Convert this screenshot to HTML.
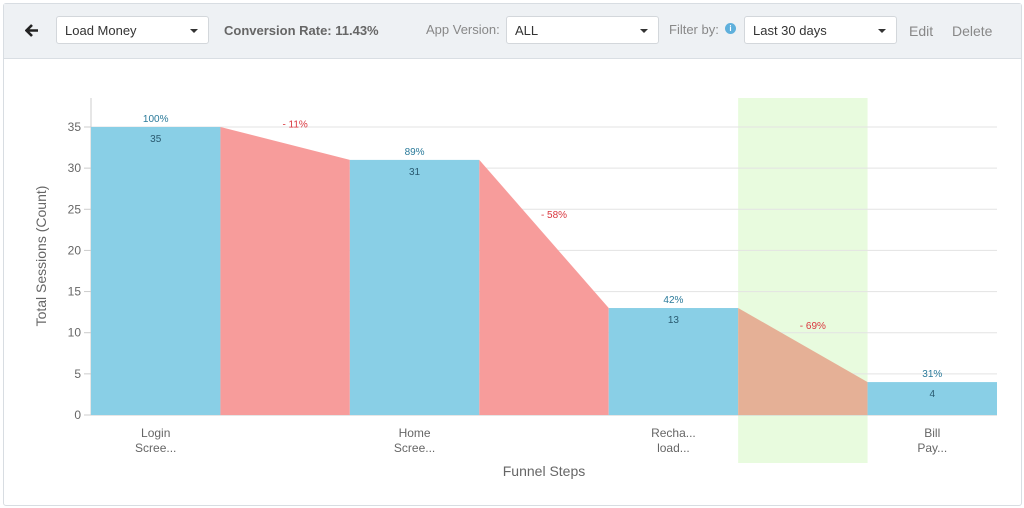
<!DOCTYPE html>
<html><head><meta charset="utf-8"><style>
body{margin:0;width:1024px;height:508px;background:#fff;font-family:"Liberation Sans",sans-serif;overflow:hidden;position:relative}
.card{position:absolute;left:3px;top:3px;width:1017px;height:501px;border:1px solid #d8dde2;border-radius:3px;background:#fff}
.hdr{position:absolute;left:0;top:0;width:1017px;height:54px;background:#eef1f4;border-bottom:1px solid #d9dee3}
.sel{position:absolute;top:12px;height:28px;background:#fff;border:1px solid #d3d7db;border-radius:3px;font-size:13px;color:#333;line-height:28px;box-sizing:border-box;padding-left:8px}
.sel:after{content:"";position:absolute;right:10px;top:12px;border-left:4px solid transparent;border-right:4px solid transparent;border-top:4px solid #333}
.t{position:absolute;font-size:13px;color:#777}
</style></head><body>
<div class="card">
<div class="hdr">
<svg style="position:absolute;left:21px;top:20px" width="14" height="13"><path d="M7 1 L1.5 6.5 L7 12 M2 6.5 H13" stroke="#222" stroke-width="2.6" fill="none"/></svg>
<div class="sel" style="left:52px;width:153px">Load Money</div>
<div class="t" style="left:220px;top:19px;font-weight:bold;color:#666">Conversion Rate: 11.43%</div>
<div class="t" style="left:422px;top:18px;color:#888">App Version:</div>
<div class="sel" style="left:502px;width:153px">ALL</div>
<div class="t" style="left:665px;top:18px;color:#888">Filter by:</div>
<div style="position:absolute;left:721px;top:19px;width:11px;height:11px;border-radius:50%;background:#5fb0dc;color:#fff;font-size:8px;text-align:center;line-height:11px;font-weight:bold">i</div>
<div class="sel" style="left:740px;width:153px">Last 30 days</div>
<div class="t" style="left:905px;top:19px;font-size:14px;color:#888">Edit</div>
<div class="t" style="left:948px;top:19px;font-size:14px;color:#888">Delete</div>
</div></div>
<svg id="ch" width="1024" height="508" style="position:absolute;left:0;top:0"></svg>
<script>
const steps=["Login|Scree...","Home|Scree...","Recha...|load...","Bill|Pay..."];
const values=[35,31,13,4];
const pcts=["100%","89%","42%","31%"];
const drops=["- 11%","- 58%","- 69%"];
const ticks=[0,5,10,15,20,25,30,35];
const highlight=2;
const svg=document.getElementById('ch');const NS="http://www.w3.org/2000/svg";
const X0=91,X1=997,Y0=415,PX=8.229,TOP=98;
const slot=(X1-X0)/(steps.length*2-1);
const y=v=>Y0-v*PX;const xs=i=>X0+i*slot;
function el(t,a,txt){const e=document.createElementNS(NS,t);for(const k in a)e.setAttribute(k,a[k]);if(txt!=null)e.textContent=txt;svg.appendChild(e);return e;}
const hb=el('rect',{x:xs(highlight*2+1),y:TOP,width:slot,height:463-TOP,fill:'#e8fbde'});


ticks.forEach(t=>{
 if(t>0){const g=el('line',{x1:X0,x2:X1,y1:y(t),y2:y(t),stroke:'#e3e3e3'});}
 el('line',{x1:84,x2:X0,y1:y(t),y2:y(t),stroke:'#ccc'});
 const l=el('text',{x:81,y:y(t)+4,'text-anchor':'end','font-size':12,fill:'#666'},t);
 
});
el('line',{x1:X0,x2:X0,y1:TOP,y2:Y0,stroke:'#ccc'});
el('line',{x1:X0,x2:X1,y1:Y0,y2:Y0,stroke:'#ccc'});
values.forEach((v,i)=>{
 const x=xs(i*2);
 const b=el('rect',{x:x,y:y(v),width:slot,height:Y0-y(v),fill:'#89cfe6'});
 
 el('text',{x:x+slot/2,y:y(v)-5,'text-anchor':'middle','font-size':10,fill:'#2a7a9a'},pcts[i]);
 el('text',{x:x+slot/2,y:y(v)+15,'text-anchor':'middle','font-size':10,fill:'#2a5a70'},v);
 const [a,c]=steps[i].split('|');
 const l1=el('text',{x:x+slot/2,y:437,'text-anchor':'middle','font-size':12,fill:'#666'},a);
 
 el('text',{x:x+slot/2,y:452,'text-anchor':'middle','font-size':12,fill:'#666'},c);
 if(i<values.length-1){
  const dx=xs(i*2+1),n=values[i+1];
  const p=el('polygon',{points:`${dx},${y(v)} ${dx+slot},${y(n)} ${dx+slot},${Y0} ${dx},${Y0}`,fill:i===highlight?'#e5b096':'#f79c9b'});
  
  el('text',{x:dx+slot/2+10,y:(y(v)+y(n))/2-16,'text-anchor':'middle','font-size':10,fill:'#d9363e'},drops[i]);
 }
});
const xt=el('text',{x:544,y:476,'text-anchor':'middle','font-size':14,fill:'#666'},'Funnel Steps');

const yt=el('text',{x:0,y:0,'text-anchor':'middle','font-size':14,fill:'#666',transform:'translate(46,256) rotate(-90)'},'Total Sessions (Count)');

</script>
</body></html>
